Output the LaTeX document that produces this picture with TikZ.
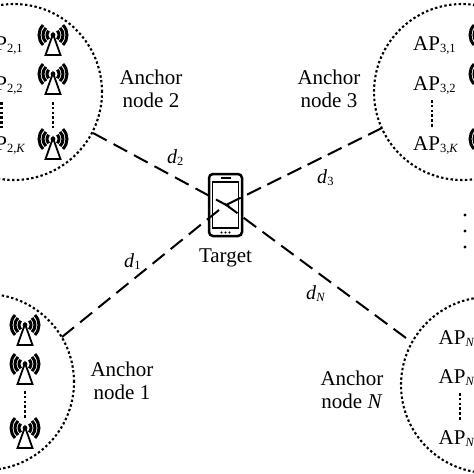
\documentclass[tikz,border=0pt]{standalone}
\usepackage{fontspec}
\setmainfont{Liberation Serif}
\newcommand{\apl}[2]{AP{\fontsize{12.5}{12.5}\selectfont\raisebox{-2.5pt}{#1,#2}}}
\newcommand{\dl}[1]{\textit{d}{\fontsize{12.5}{12.5}\selectfont\raisebox{-2.5pt}{#1}}}
\tikzset{
 x=1pt,y=-1pt,
 anchorcircle/.style={circle,draw,inner sep=0pt,minimum size=176pt,line width=2.1pt,dash pattern=on 2.4pt off 2.4pt},
 link/.style={line width=2pt,dash pattern=on 15.5pt off 7.8pt},
 vdots/.style={line width=2pt,dash pattern=on 2.6pt off 2.2pt},
 aptext/.style={anchor=base west,inner sep=0pt,font=\fontsize{21}{24}\selectfont},
 caption/.style={align=center,inner sep=0pt,font=\fontsize{21}{23}\selectfont},
 dtext/.style={anchor=base west,inner sep=0pt,font=\fontsize{20}{22}\selectfont},
 tower/.pic={
  \draw[line width=1.8pt,line join=miter] (0,9) -- (-7.5,30) -- (7.5,30) -- cycle;
  \fill (0,10) circle[radius=2.4pt];
  \foreach \r in {6,10,14}{
   \draw[line width=3pt] (0,10) ++(45:\r pt) arc[start angle=45,end angle=-45,radius=\r pt];
   \draw[line width=3pt] (0,10) ++(135:\r pt) arc[start angle=135,end angle=225,radius=\r pt];
  }
 }
}
\begin{document}
\begin{tikzpicture}
\clip (0,0) rectangle (474,474);
% anchor circles
\node[anchorcircle] (a2) at (14,92) {};
\node[anchorcircle] (a3) at (462,92) {};
\node[anchorcircle] (a1) at (-14,382) {};
\node[anchorcircle] (aN) at (489,385) {};
% connector ends
\coordinate (e1) at (62,337);
\coordinate (p1) at (219,210);
\coordinate (e2) at (93,133);
\coordinate (p2) at (229.7,206.9);
\coordinate (e3) at (382,128);
\coordinate (p3) at (226,205);
\coordinate (eN) at (406,338);
\coordinate (pN) at (225,204);
\draw[link] (e1) -- (p1);
\draw[link] (e2) -- (p2);
\draw[link,dash pattern=on 15.5pt off 7pt] (e3) -- (p3);
\draw[link] (eN) -- (pN);
% phone
\node[draw,rounded corners=4pt,line width=2.5pt,minimum width=33pt,minimum height=62pt,inner sep=0pt] (phone) at (225.5,205) {};
\node[draw,line width=1.5pt,minimum width=26pt,minimum height=46pt,inner sep=0pt] (screen) at (225.5,205) {};
\node[fill,inner sep=0pt,minimum width=10pt,minimum height=2pt] (speaker) at (225.5,177.5) {};
\foreach \i/\x in {1/221.5,2/225.5,3/229.5}
 \node[fill,circle,inner sep=0pt,minimum size=2.2pt] (btn\i) at (\x,232.5) {};
% towers
\foreach \x/\a/\b/\c in {53/25/64/129,25/315/354/418,484/25/64/129}{
 \pic at (\x,\a) {tower};
 \pic at (\x,\b) {tower};
 \pic at (\x,\c) {tower};
}
% vertical dotted runs
\coordinate (t2a) at (53,102); \coordinate (t2b) at (53,128);
\coordinate (t1a) at (25,391); \coordinate (t1b) at (25,418);
\coordinate (l3a) at (432,100); \coordinate (l3b) at (432,128);
\coordinate (lNa) at (460,393); \coordinate (lNb) at (460,420);
\coordinate (l2a) at (1,102); \coordinate (l2b) at (1,128);
\draw[vdots] (t2a) -- (t2b);
\draw[vdots] (t1a) -- (t1b);
\draw[vdots] (l3a) -- (l3b);
\draw[vdots] (lNa) -- (lNb);
\draw[vdots,line width=3pt] (l2a) -- (l2b);
% AP labels
\node[aptext] (ap21) at (-20,50) {\apl{2}{1}};
\node[aptext] (ap22) at (-20,90) {\apl{2}{2}};
\node[aptext] (ap2k) at (-20,150) {\apl{2}{\textit{K}}};
\node[aptext] (ap31) at (413,50) {\apl{3}{1}};
\node[aptext] (ap32) at (413,90) {\apl{3}{2}};
\node[aptext] (ap3k) at (413,150) {\apl{3}{\textit{K}}};
\node[aptext] (apN1) at (438.5,344) {\apl{\textit{N}}{1}};
\node[aptext] (apN2) at (438.5,383) {\apl{\textit{N}}{2}};
\node[aptext] (apNk) at (438.5,444) {\apl{\textit{N}}{\textit{K}}};
% captions
\node[caption] (c2) at (151,89) {Anchor\\node 2};
\node[caption] (c3) at (329,89) {Anchor\\node 3};
\node[caption] (c1) at (122,381) {Anchor\\node 1};
\node[caption] (cN) at (352,390) {Anchor\\node \textit{N}};
\node[caption,anchor=base] (target) at (225.5,262) {Target};
% distance labels
\node[dtext] (d2) at (167,163) {\dl{2}};
\node[dtext] (d3) at (317,183) {\dl{3}};
\node[dtext] (d1) at (124,267) {\dl{1}};
\node[dtext] (dN) at (306,299) {\dl{\textit{N}}};
% ellipsis
\foreach \i/\y in {1/215,2/231,3/247}
 \node[fill,circle,inner sep=0pt,minimum size=3.4pt] (dot\i) at (465,\y) {};
\end{tikzpicture}
\end{document}
